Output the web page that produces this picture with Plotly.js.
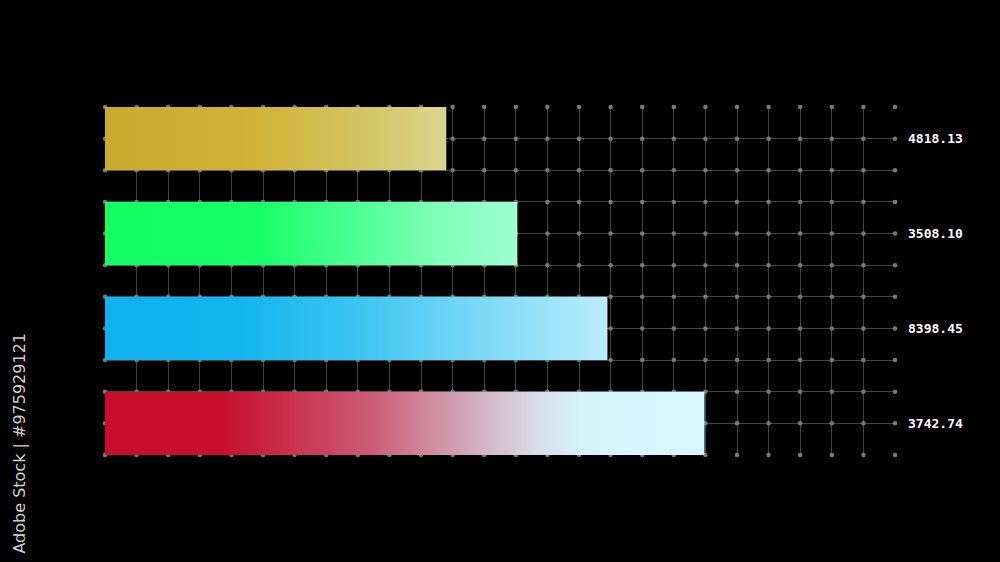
<!DOCTYPE html>
<html>
<head>
<meta charset="utf-8">
<script src="https://cdn.plot.ly/plotly-3.0.1.min.js"></script>
<style>
html,body{margin:0;padding:0;background:#000;}
#chart{width:1000px;height:562px;}
</style>
</head>
<body>
<div id="chart"></div>
<script>
// ---- data ----
var categories = ['A', 'B', 'C', 'D'];
var barValues = [10.8, 13.05, 15.9, 18.97];          // bar length in grid cells
var valueLabels = ['4818.13', '3508.10', '8398.45', '3742.74'];
var baseColors = ['#CFB134', '#16FF66', '#10B4EC', '#C8102E'];
var gradients = [
  [[0, '#CBAA2E'], [0.45, '#D1B337'], [0.75, '#D4C464'], [1, '#D9D68E']],
  [[0, '#14FF64'], [0.37, '#18FF68'], [0.6, '#4CFF93'], [0.8, '#7EFFB7'], [1, '#9EFFD2']],
  [[0, '#0FB2EC'], [0.26, '#12B5EE'], [0.5, '#3CC4F2'], [0.75, '#7CD9F7'], [1, '#BAECFD']],
  [[0, '#C8102E'], [0.2, '#C8102E'], [0.44, '#CC5A74'], [0.61, '#D3AABB'], [0.72, '#D8DDE8'], [0.8, '#D6F4FC'], [1, '#D8F6FF']]
];
var xCells = 25, yCells = 11;
var barCenters = categories.map(function (c, i) { return i * 3 + 1; });

var traces = [];

// grid intersection dots
var dx = [], dy = [];
for (var gx = 0; gx <= xCells; gx++) {
  for (var gy = 0; gy <= yCells; gy++) { dx.push(gx); dy.push(gy); }
}
traces.push({
  type: 'scatter', mode: 'markers', x: dx, y: dy, hoverinfo: 'skip',
  marker: {size: 4.5, color: '#7a7a7a'}, showlegend: false, cliponaxis: false
});

// base bars
traces.push({
  type: 'bar', orientation: 'h', x: barValues, y: barCenters, width: 2,
  marker: {color: baseColors, line: {width: 0}}, text: categories,
  textposition: 'none', hoverinfo: 'x', showlegend: false
});

// gradient overlays
barValues.forEach(function (v, i) {
  var c = barCenters[i];
  traces.push({
    type: 'scatter', mode: 'lines', fill: 'toself',
    x: [0, v, v, 0, 0], y: [c - 1, c - 1, c + 1, c + 1, c - 1],
    line: {width: 0, color: 'rgba(0,0,0,0)'},
    fillgradient: {type: 'horizontal', colorscale: gradients[i]},
    fillcolor: baseColors[i], hoverinfo: 'skip', showlegend: false
  });
});

var annotations = valueLabels.map(function (t, i) {
  return {
    x: xCells, y: barCenters[i], xref: 'x', yref: 'y', text: t,
    showarrow: false, xanchor: 'left', yanchor: 'middle', xshift: 11,
    font: {family: 'DejaVu Sans Mono', size: 13, color: '#ffffff', weight: 'bold'}
  };
});
annotations.push({
  x: -0.1076, y: 0.359, xref: 'paper', yref: 'paper', text: 'Adobe Stock | #975929121',
  textangle: -90, showarrow: false, xanchor: 'center', yanchor: 'top',
  font: {family: 'DejaVu Sans', size: 16, color: '#d0d0d0'}
});

var layout = {
  width: 1000, height: 562,
  margin: {l: 105, r: 105, t: 107, b: 107, pad: 0},
  paper_bgcolor: '#000000', plot_bgcolor: '#000000',
  showlegend: false,
  xaxis: {range: [0, xCells], dtick: 1, tick0: 0, showgrid: true, gridcolor: '#444444',
    gridwidth: 1, zeroline: false, showticklabels: false, ticks: '', showline: false,
    fixedrange: true},
  yaxis: {range: [yCells, 0], dtick: 1, tick0: 0, showgrid: true, gridcolor: '#444444',
    gridwidth: 1, zeroline: false, showticklabels: false, ticks: '', showline: false,
    fixedrange: true},
  annotations: annotations,
  bargap: 0
};

Plotly.newPlot('chart', traces, layout, {displayModeBar: false, staticPlot: true});
</script>
</body>
</html>
